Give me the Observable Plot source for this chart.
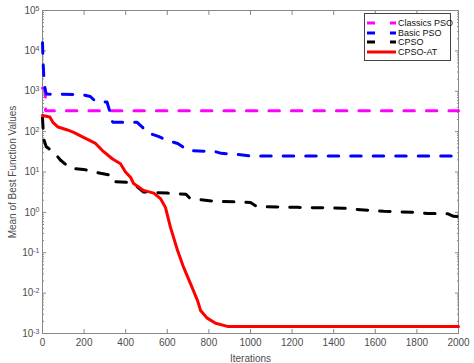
<!DOCTYPE html>
<html><head><meta charset="utf-8">
<script src="https://cdn.jsdelivr.net/npm/d3@7"></script>
<script src="https://cdn.jsdelivr.net/npm/@observablehq/plot@0.6"></script>
<style>
body{margin:0;background:#fff;}
#wrap{position:relative;width:474px;height:363px;}
#legend{position:absolute;left:364px;top:13px;width:87px;height:48px;border:1px solid #444;background:#fff;font:9px "Liberation Sans",Arial,sans-serif;color:#111;box-sizing:border-box;}
#legend .row{position:absolute;left:0;height:10px;width:100%;}
#legend svg{position:absolute;left:1px;top:0;}
#legend span{position:absolute;left:33px;top:0;line-height:10px;white-space:nowrap;}
</style></head><body><div id="wrap"></div>
<script>
// ---- data ----
const classicsIter = [0, 13, 15, 2000];
const classicsVal  = [1200, 1100, 330, 330];

const basicIter = [0, 3, 6, 10, 14, 20, 190, 230, 255, 310, 325, 330, 340, 455, 480, 500, 560, 600, 650, 700, 830, 860, 940, 1000, 2000];
const basicVal  = [16000, 5000, 2500, 1400, 1000, 850, 830, 740, 560, 540, 300, 190, 170, 170, 130, 96, 75, 60, 51, 34, 32, 29, 27, 25, 25];

const cpsoIter = [0, 4, 8, 18, 30, 48, 87, 135, 197, 279, 320, 335, 420, 455, 486, 600, 690, 710, 822, 952, 1000, 1030, 1225, 1447, 1500, 1640, 1800, 1851, 1950, 1976, 2000];
const cpsoVal  = [220, 90, 60, 42, 38, 34, 19.5, 12.3, 11.6, 9.3, 8.5, 5.8, 5.5, 4.3, 3.2, 3.0, 2.8, 2.2, 1.9, 1.8, 1.75, 1.4, 1.33, 1.27, 1.2, 1.06, 1.0, 0.94, 0.92, 0.8, 0.78];

const atIter = [0, 35, 50, 75, 120, 150, 197, 255, 288, 337, 375, 399, 423, 438, 486, 535, 567, 591, 615, 649, 678, 712, 745, 760, 792, 832, 889, 2000];
const atVal  = [250, 230, 170, 130, 110, 96, 72, 51, 34, 21, 16, 10, 7.4, 5.2, 3.5, 3.0, 2.2, 1.33, 0.43, 0.115, 0.044, 0.017, 0.0066, 0.0037, 0.0024, 0.0018, 0.0015, 0.0015];

const seriesNames = ["Classics PSO", "Basic PSO", "CPSO", "CPSO-AT"];
const seriesColors = ["#ff00ff", "#0000ff", "#000000", "#ff0000"];
const xTicks = [0, 200, 400, 600, 800, 1000, 1200, 1400, 1600, 1800, 2000];
const yExps = [-3, -2, -1, 0, 1, 2, 3, 4, 5];

// ---- build ----
function toRows(it, v){ return it.map((x,i)=>({iter:x, value:v[i]})); }
const data = [toRows(classicsIter, classicsVal), toRows(basicIter, basicVal), toRows(cpsoIter, cpsoVal), toRows(atIter, atVal)];
const majorY = yExps.map(e => Math.pow(10, e));
const minorY = [];
yExps.slice(0, -1).forEach(e => { for (let k = 2; k <= 9; k++) minorY.push(k * Math.pow(10, e)); });

const dash = "10.5,12";
const blank = () => "";
const chart = Plot.plot({
  width: 474, height: 363,
  marginLeft: 42, marginRight: 16, marginTop: 10, marginBottom: 30,
  x: {domain: [0, 2000]},
  y: {type: "log", domain: [1e-3, 1e5]},
  style: {fontFamily: "Liberation Sans, Arial, sans-serif", fontSize: "10px", color: "#4d4d4d", background: "#fff"},
  marks: [
    Plot.axisX(xTicks, {anchor: "bottom", tickSize: -4, tickPadding: 9, tickFormat: d => String(d), label: "Iterations", labelAnchor: "center", labelArrow: "none", labelOffset: 28, stroke: "#888"}),
    Plot.axisX(xTicks, {anchor: "top", tickSize: -4, tickFormat: blank, label: null, stroke: "#888"}),
    Plot.axisY(majorY, {anchor: "left", tickSize: -4, tickPadding: 7, tickFormat: d => "10^" + Math.round(Math.log10(d)), label: "Mean of Best Function Values", labelAnchor: "center", labelArrow: "none", labelOffset: 34, stroke: "#888"}),
    Plot.axisY(minorY, {anchor: "left", tickSize: -2, tickFormat: blank, label: null, stroke: "#888"}),
    Plot.axisY(majorY, {anchor: "right", tickSize: -4, tickFormat: blank, label: null, stroke: "#888"}),
    Plot.axisY(minorY, {anchor: "right", tickSize: -2, tickFormat: blank, label: null, stroke: "#888"}),
    Plot.frame({stroke: "#888"}),
    Plot.line(data[0], {x: "iter", y: "value", stroke: seriesColors[0], strokeWidth: 3, strokeDasharray: dash}),
    Plot.line(data[1], {x: "iter", y: "value", stroke: seriesColors[1], strokeWidth: 3, strokeDasharray: dash}),
    Plot.line(data[2], {x: "iter", y: "value", stroke: seriesColors[2], strokeWidth: 3, strokeDasharray: dash}),
    Plot.line(data[3], {x: "iter", y: "value", stroke: seriesColors[3], strokeWidth: 3})
  ]
});
// superscript exponents
d3.select(chart).selectAll("text").each(function(){
  const t = this.textContent;
  const m = /^10\^(-?\d+)$/.exec(t);
  if (m) {
    const sel = d3.select(this);
    sel.text("10");
    sel.append("tspan").attr("dy", "-0.45em").attr("font-size", "7px").text(m[1]);
  }
});
const wrap = document.getElementById("wrap");
wrap.appendChild(chart);

// legend
const leg = document.createElement("div");
leg.id = "legend";
seriesNames.forEach((name, i) => {
  const row = document.createElement("div");
  row.className = "row";
  row.style.top = (4 + i * 9.7) + "px";
  const da = i < 3 ? 'stroke-dasharray="8,15"' : "";
  row.innerHTML = `<svg width="31" height="10"><line x1="1" y1="5" x2="30" y2="5" stroke="${seriesColors[i]}" stroke-width="3" ${da}/></svg><span>${name}</span>`;
  leg.appendChild(row);
});
wrap.appendChild(leg);
</script>
</body></html>
